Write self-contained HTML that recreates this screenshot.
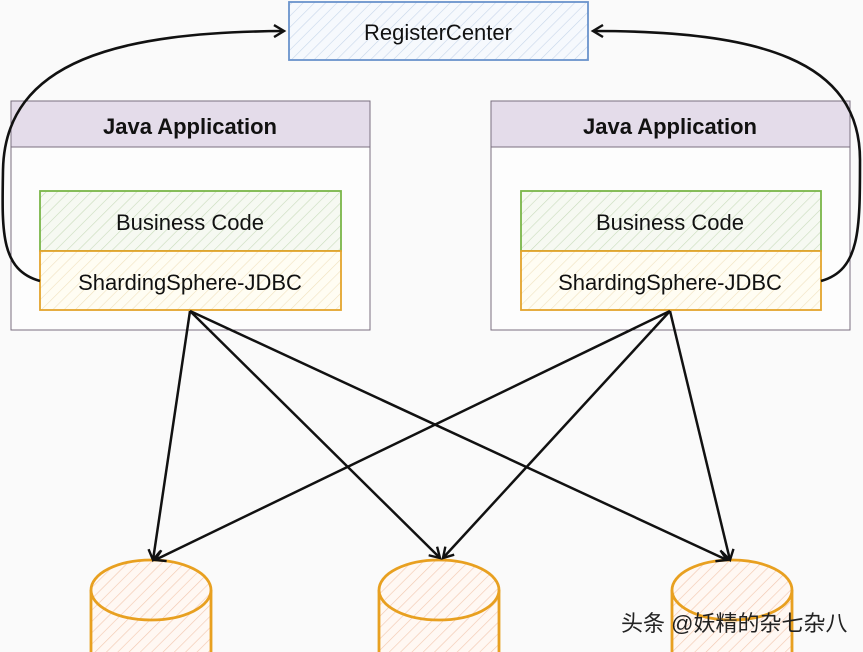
<!DOCTYPE html>
<html><head><meta charset="utf-8"><style>
html,body{margin:0;padding:0;background:#fafafa;}
svg{display:block;}
text{font-family:"Liberation Sans",sans-serif;fill:#111;}
</style></head><body>
<svg width="863" height="652" viewBox="0 0 863 652" xmlns="http://www.w3.org/2000/svg">
<defs>
<pattern id="hb" width="8" height="8" patternUnits="userSpaceOnUse" patternTransform="rotate(45)"><rect width="8" height="8" fill="#f6f9fd"/><line x1="0" y1="0" x2="0" y2="8" stroke="#c8d6ea" stroke-width="1.2"/></pattern>
<pattern id="hg" width="8" height="8" patternUnits="userSpaceOnUse" patternTransform="rotate(45)"><rect width="8" height="8" fill="#f6f9f2"/><line x1="0" y1="0" x2="0" y2="8" stroke="#c9dcbc" stroke-width="1.2"/></pattern>
<pattern id="hy" width="8" height="8" patternUnits="userSpaceOnUse" patternTransform="rotate(45)"><rect width="8" height="8" fill="#fffdf3"/><line x1="0" y1="0" x2="0" y2="8" stroke="#f0e2c0" stroke-width="1.2"/></pattern>
<pattern id="ho" width="8" height="8" patternUnits="userSpaceOnUse" patternTransform="rotate(45)"><rect width="8" height="8" fill="#fff8f3"/><line x1="0" y1="0" x2="0" y2="8" stroke="#f3c9b2" stroke-width="1.3"/></pattern>
<marker id="ar" markerWidth="14" markerHeight="14" refX="11" refY="7" orient="auto" markerUnits="userSpaceOnUse"><path d="M1,1 L11,7 L1,13" fill="none" stroke="#111" stroke-width="2.4"/></marker>
</defs>
<rect width="863" height="652" fill="#fafafa"/>
<rect x="289" y="2" width="299" height="58" fill="url(#hb)" stroke="#6a93cc" stroke-width="1.8"/>
<text x="438" y="40" font-size="22" text-anchor="middle">RegisterCenter</text>
<rect x="11" y="101" width="359" height="229" fill="#fdfdfd" stroke="#7a6f80" stroke-width="1"/>
<rect x="11" y="101" width="359" height="46" fill="#e4dcea" stroke="#7a6f80" stroke-width="1"/>
<text x="190" y="134" font-size="22" font-weight="bold" text-anchor="middle">Java Application</text>
<rect x="40" y="191" width="301" height="60" fill="url(#hg)" stroke="#7ab648" stroke-width="1.8"/>
<text x="190" y="230" font-size="22" text-anchor="middle">Business Code</text>
<rect x="40" y="251" width="301" height="59" fill="url(#hy)" stroke="#e3a42c" stroke-width="1.8"/>
<text x="190" y="290" font-size="22" text-anchor="middle">ShardingSphere-JDBC</text>
<rect x="491" y="101" width="359" height="229" fill="#fdfdfd" stroke="#7a6f80" stroke-width="1"/>
<rect x="491" y="101" width="359" height="46" fill="#e4dcea" stroke="#7a6f80" stroke-width="1"/>
<text x="670" y="134" font-size="22" font-weight="bold" text-anchor="middle">Java Application</text>
<rect x="521" y="191" width="300" height="60" fill="url(#hg)" stroke="#7ab648" stroke-width="1.8"/>
<text x="670" y="230" font-size="22" text-anchor="middle">Business Code</text>
<rect x="521" y="251" width="300" height="59" fill="url(#hy)" stroke="#e3a42c" stroke-width="1.8"/>
<text x="670" y="290" font-size="22" text-anchor="middle">ShardingSphere-JDBC</text>
<path d="M40,281 C0,270 2,230 3,170 C5,60 120,32 284,31" fill="none" stroke="#111" stroke-width="2.6" marker-end="url(#ar)"/>
<path d="M821,281 C860,270 860,230 860,160 C860,60 760,31 593,31" fill="none" stroke="#111" stroke-width="2.6" marker-end="url(#ar)"/>
<g stroke="#e8a020" stroke-width="2.8" fill="url(#ho)">
<path d="M91,590 L91,660 L211,660 L211,590"/>
<ellipse cx="151" cy="590" rx="60" ry="30"/>
<path d="M379,590 L379,660 L499,660 L499,590"/>
<ellipse cx="439" cy="590" rx="60" ry="30"/>
<path d="M672,590 L672,660 L792,660 L792,590"/>
<ellipse cx="732" cy="590" rx="60" ry="30"/>
</g>
<g stroke="#111" stroke-width="2.5" fill="none">
<line x1="190" y1="311" x2="153" y2="560" marker-end="url(#ar)"/>
<line x1="190" y1="311" x2="440" y2="558" marker-end="url(#ar)"/>
<line x1="190" y1="311" x2="727" y2="560" marker-end="url(#ar)"/>
<line x1="670" y1="311" x2="155" y2="560" marker-end="url(#ar)"/>
<line x1="670" y1="311" x2="443" y2="558" marker-end="url(#ar)"/>
<line x1="670" y1="311" x2="730" y2="560" marker-end="url(#ar)"/>
</g>
<text x="621" y="631" font-size="22" style="font-family:'Liberation Sans','Noto Sans CJK SC',sans-serif;fill:#222">头条 @妖精的杂七杂八</text>
</svg>
</body></html>
